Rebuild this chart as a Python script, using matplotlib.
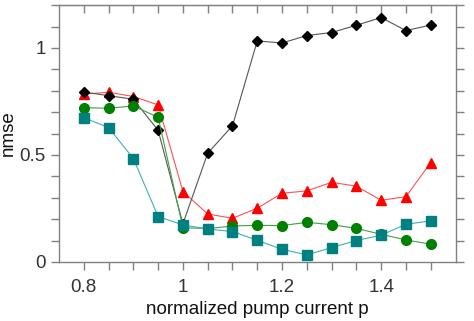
import numpy as np
import matplotlib.pyplot as plt

plt.rcParams['font.family'] = ['Liberation Sans', 'DejaVu Sans']

pump = [0.8, 0.85, 0.9, 0.95, 1.0, 1.05, 1.1, 1.15, 1.2, 1.25, 1.3, 1.35, 1.4, 1.45, 1.5]

nmse_black = [0.794, 0.777, 0.760, 0.615, 0.178, 0.508, 0.636, 1.033,
              1.023, 1.058, 1.072, 1.106, 1.142, 1.081, 1.107]
nmse_red = [0.784, 0.793, 0.773, 0.734, 0.329, 0.224, 0.204, 0.251,
            0.321, 0.332, 0.372, 0.354, 0.288, 0.305, 0.464]
nmse_green = [0.721, 0.718, 0.729, 0.676, 0.160, 0.156, 0.168, 0.171,
              0.170, 0.185, 0.174, 0.157, 0.129, 0.103, 0.083]
nmse_teal = [0.674, 0.628, 0.483, 0.212, 0.173, 0.154, 0.142, 0.101,
             0.059, 0.033, 0.067, 0.100, 0.125, 0.176, 0.192]

fig = plt.figure(figsize=(4.74, 3.21), dpi=100)
ax = fig.add_axes([0.1245, 0.184, 0.8375, 0.8])

ax.plot(pump, nmse_red, color='#ff5050', lw=0.8, marker='^', ms=7.5,
        mfc='red', mec='red', zorder=3)
ax.plot(pump, nmse_black, color='#555555', lw=0.8, marker='D', ms=5.5,
        mfc='black', mec='black', zorder=4)
ax.plot(pump, nmse_green, color='#40a040', lw=0.8, marker='o', ms=7,
        mfc='green', mec='green', zorder=5)
ax.plot(pump, nmse_teal, color='#40b0b0', lw=0.8, marker='s', ms=6.5,
        mfc='#008080', mec='#008080', zorder=6)

xmajor = [0.8, 1.0, 1.2, 1.4]
xminor = np.arange(0.8, 1.51, 0.05)

ax.set_xlim(0.75, 1.551)
ax.set_ylim(0, 1.2)
ax.set_xticks(xmajor)
ax.set_xticklabels(['0.8', '1', '1.2', '1.4'])
ax.set_yticks([0, 0.5, 1])
ax.set_yticklabels(['0', '0.5', '1'])
ax.set_xticks(xminor, minor=True)
ax.set_yticks(np.arange(0, 1.21, 0.1), minor=True)

for s in ax.spines.values():
    s.set_color('#808080')
    s.set_linewidth(1.0)

ax.tick_params(which='both', direction='out', color='#808080', width=1.0,
               length=6, labelsize=13.5, labelcolor='#333333', right=True)
ax.tick_params(axis='x', which='both', pad=6)

# top axis: ticks pointing into the plot, no labels
top = ax.secondary_xaxis('top')
top.set_xticks(xmajor)
top.set_xticks(xminor, minor=True)
top.tick_params(which='both', direction='in', color='#808080', width=1.0,
                length=6, labeltop=False)
top.spines['top'].set_color('#808080')

ax.set_xlabel('normalized pump current p', fontsize=13.5, color='#111111', labelpad=4)
ax.set_ylabel('nmse', fontsize=13.5, color='#111111', labelpad=2)

fig.savefig('out.png', dpi=100)
